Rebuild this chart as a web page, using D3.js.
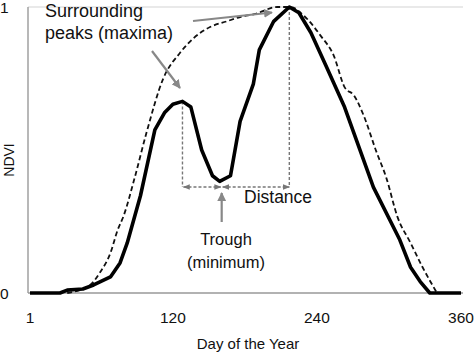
<!DOCTYPE html>
<html><head><meta charset="utf-8">
<script src="https://cdn.jsdelivr.net/npm/d3@7"></script>
<style>html,body{margin:0;padding:0;background:#fff;overflow:hidden}</style>
</head><body><svg id="c" width="474" height="355"></svg>
<script>
// Data (day of year, NDVI)
const solidDays = [1,26,32,45,54,68,76,82,93,105,113,120,128,135,144,153,159,168,176,187,192,204,217,225,235,248,263,287,309,318,326,334,360];
const solidNdvi = [0,0,0.01,0.014,0.028,0.056,0.105,0.175,0.34,0.57,0.63,0.66,0.67,0.65,0.50,0.41,0.39,0.41,0.60,0.73,0.85,0.95,1.0,0.98,0.91,0.79,0.65,0.37,0.186,0.09,0.04,0,0];
const dashDays = [32,51,59,68,74,79,88,98,112,126,137,151,165,176,188,207,218,229,243,254,263,271,279,289,298,307,318,328,340];
const dashNdvi = [0,0.028,0.07,0.14,0.22,0.27,0.40,0.56,0.75,0.84,0.89,0.93,0.95,0.965,0.975,1.0,1.0,0.97,0.90,0.83,0.72,0.69,0.62,0.50,0.40,0.267,0.175,0.09,0];
const xTicks = [1,120,240,360];
const yTicks = [0,1];
const peak1 = {day:128, v:0.67};
const trough = {day:159, v:0.39};
const peak2 = {day:217, v:1.0};

const svg = d3.select('#c');
const x = d3.scaleLinear().domain([1,360]).range([30,461]);
const y = d3.scaleLinear().domain([0,1]).range([293,7]);
const font = 'Liberation Sans, Arial, sans-serif';

// gridline top
svg.append('line').attr('x1',28).attr('x2',463).attr('y1',y(1)).attr('y2',y(1))
  .attr('stroke','#e2e2e2').attr('stroke-width',1.5);
// axes lines
svg.append('line').attr('x1',28).attr('x2',28).attr('y1',y(1)).attr('y2',y(0)).attr('stroke','#a0a0a0').attr('stroke-width',1.5);
svg.append('line').attr('x1',28).attr('x2',463).attr('y1',y(0)).attr('y2',y(0)).attr('stroke','#999').attr('stroke-width',1.5);

// tick labels
svg.selectAll('.xt').data(xTicks).enter().append('text')
  .attr('x',d=>x(d)).attr('y',323).attr('text-anchor','middle')
  .attr('font-family',font).attr('font-size',15.5).attr('fill','#111').text(d=>d);
svg.selectAll('.yt').data(yTicks).enter().append('text')
  .attr('x',8.5).attr('y',d=>y(d)+5.5).attr('text-anchor','end')
  .attr('font-family',font).attr('font-size',15.5).attr('fill','#111').text(d=>d);

svg.append('text').attr('x',248).attr('y',349).attr('text-anchor','middle')
  .attr('font-family',font).attr('font-size',15).attr('fill','#111').text('Day of the Year');
svg.append('text').attr('transform','translate(14,160) rotate(-90)').attr('text-anchor','middle')
  .attr('font-family',font).attr('font-size',14).attr('fill','#111').text('NDVI');

// markers
const defs = svg.append('defs');
defs.append('marker').attr('id','ah').attr('viewBox','0 0 10 10').attr('refX',9).attr('refY',5)
  .attr('markerWidth',4).attr('markerHeight',4).attr('orient','auto-start-reverse')
  .append('path').attr('d','M0,0L10,5L0,10z').attr('fill','#888');
defs.append('marker').attr('id','ahs').attr('viewBox','0 0 10 10').attr('refX',9).attr('refY',5)
  .attr('markerWidth',5).attr('markerHeight',5).attr('orient','auto-start-reverse')
  .append('path').attr('d','M0,1L10,5L0,9z').attr('fill','#777');

// annotation dashed lines
const hy = 187;
const ag = svg.append('g').attr('stroke','#777').attr('stroke-width',1.4).attr('stroke-dasharray','3,2').attr('fill','none');
ag.append('line').attr('x1',x(peak1.day)).attr('x2',x(peak1.day)).attr('y1',y(peak1.v)).attr('y2',hy);
ag.append('line').attr('x1',x(peak2.day)).attr('x2',x(peak2.day)).attr('y1',y(peak2.v)).attr('y2',hy);
ag.append('line').attr('x1',x(peak1.day)+1).attr('x2',x(trough.day)+1).attr('y1',hy).attr('y2',hy)
  .attr('marker-start','url(#ahs)').attr('marker-end','url(#ahs)');
ag.append('line').attr('x1',x(trough.day)+3).attr('x2',x(peak2.day)).attr('y1',hy).attr('y2',hy)
  .attr('marker-start','url(#ahs)').attr('marker-end','url(#ahs)');

// curves
const dline = d3.line().x(d=>x(d[0])).y(d=>y(d[1])).curve(d3.curveMonotoneX);
const sline = d3.line().x(d=>x(d[0])).y(d=>y(d[1])).curve(d3.curveLinear);
svg.append('path').datum(dashDays.map((d,i)=>[d,dashNdvi[i]]))
  .attr('d',dline).attr('fill','none').attr('stroke','#111').attr('stroke-width',1.8).attr('stroke-dasharray','5,3');
svg.append('path').datum(solidDays.map((d,i)=>[d,solidNdvi[i]]))
  .attr('d',sline).attr('fill','none').attr('stroke','#000').attr('stroke-width',3.6).attr('stroke-linejoin','round');

// gray arrows
const gg = svg.append('g').attr('stroke','#888').attr('stroke-width',2.2);
gg.append('line').attr('x1',152).attr('y1',51).attr('x2',180).attr('y2',88).attr('marker-end','url(#ah)');
gg.append('line').attr('x1',193).attr('y1',21).attr('x2',272).attr('y2',12.5).attr('marker-end','url(#ah)');
gg.append('line').attr('x1',x(trough.day)+2).attr('y1',222).attr('x2',x(trough.day)+2).attr('y2',193).attr('marker-end','url(#ah)');

// annotation texts
const t = (tx,ty,s,anchor,fs)=>svg.append('text').attr('x',tx).attr('y',ty).attr('text-anchor',anchor||'start')
  .attr('font-family',font).attr('font-size',fs||17).attr('fill','#111').text(s);
t(45,17,'Surrounding','start',18);
t(45,38.5,'peaks (maxima)','start',18);
t(244,203,'Distance','start',17.5);
t(226,245,'Trough','middle',16.5);
t(226,268,'(minimum)','middle',16.5);
</script></body></html>
